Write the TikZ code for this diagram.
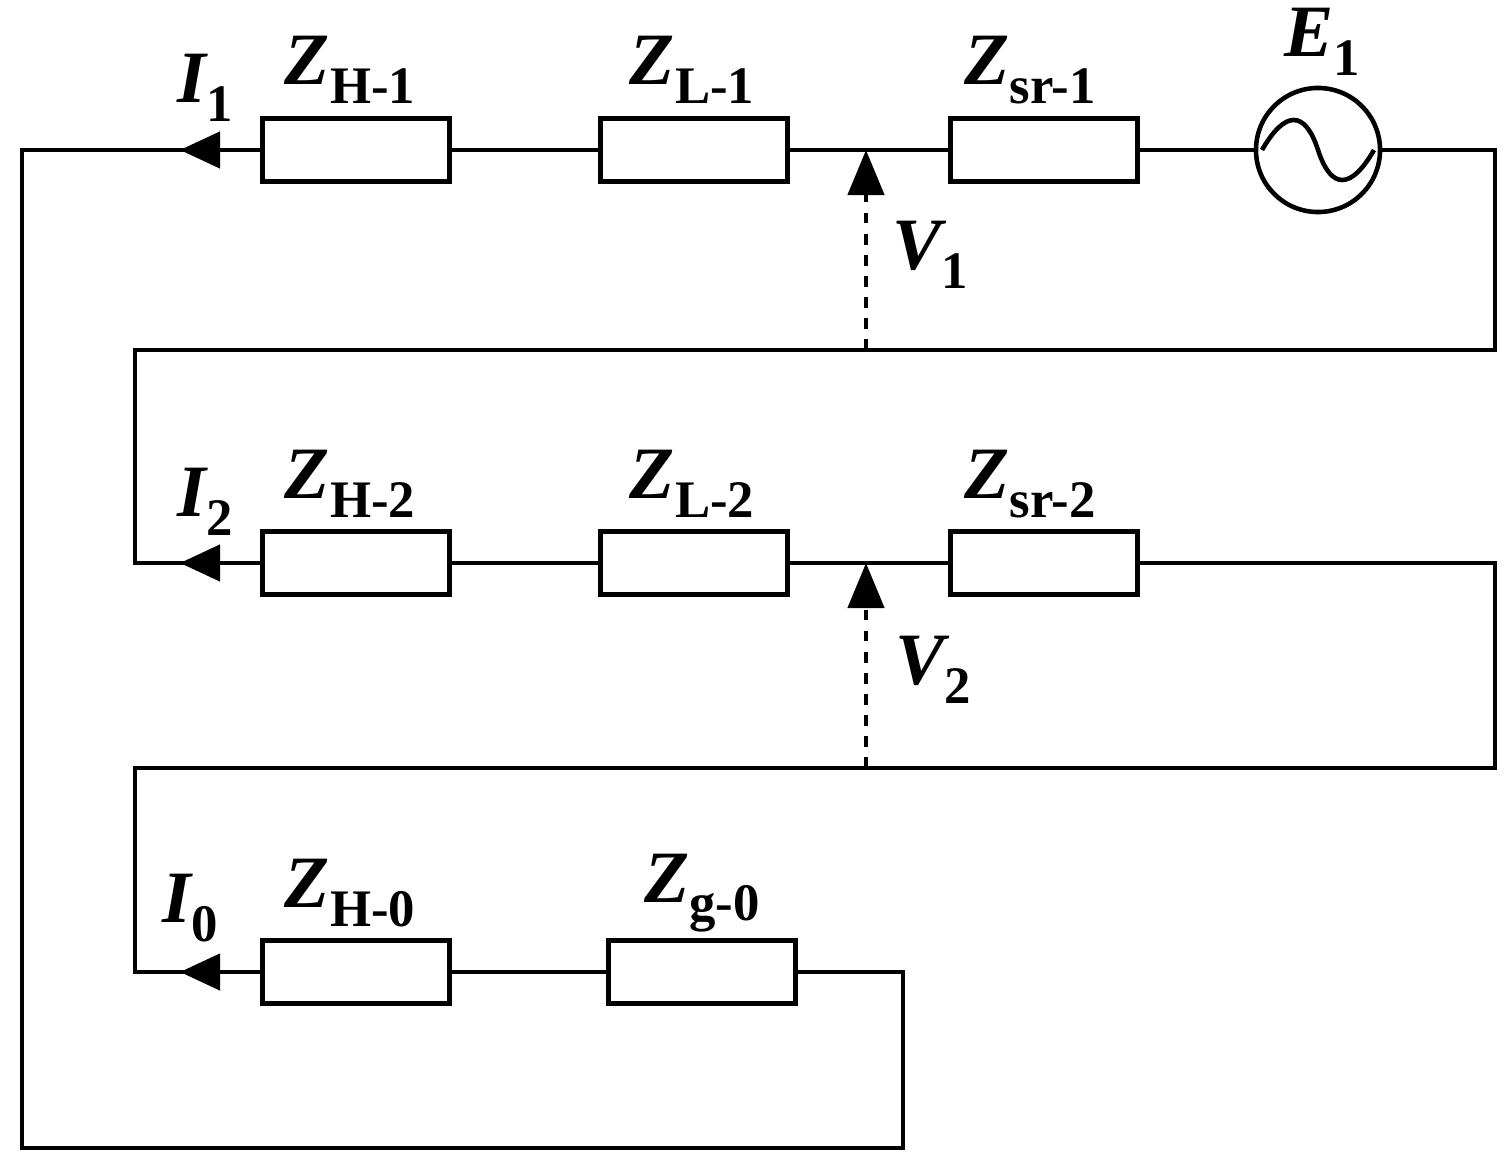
\documentclass[tikz,border=0pt]{standalone}
\usepackage{fontspec}
\setmainfont{Liberation Serif}
\usetikzlibrary{arrows.meta}
\tikzset{
  res/.style={draw, line width=1.3pt, minimum width=1.87cm, minimum height=0.63cm, inner sep=0pt},
  wire/.style={line width=1.3pt},
  lbl/.style={font=\fontsize{21}{23}\selectfont\bfseries},
  cur/.style={wire, -{Triangle[length=0.4cm,width=0.36cm]}},
  volt/.style={wire, dashed, -{Triangle[length=0.45cm,width=0.36cm]}}
}
\newcommand{\sym}[2]{{\itshape #1}\raisebox{-0.25em}{\fontsize{15}{16}\selectfont #2}}
\begin{document}
\begin{tikzpicture}[x=0.01cm,y=-0.01cm]
\useasboundingbox (0,0) rectangle (1512,1176);
% row 1
\node[res] (zh1) at (356,150) {};
\node[res] (zl1) at (694,150) {};
\node[res] (zs1) at (1044,150) {};
\node[draw, circle, line width=1.3pt, minimum size=1.24cm, inner sep=0pt] (e1) at (1318,150) {};
\draw[line width=1.3pt] (1262,150) .. controls (1285,110) and (1305,110) .. (1318,150) .. controls (1331,190) and (1351,190) .. (1374,150);
\coordinate (l1) at (22,150);
\coordinate (j1) at (866,150);
\coordinate (r1a) at (1495,150);
\coordinate (r1b) at (1495,350);
\coordinate (m1) at (866,350);
\coordinate (l2a) at (135,350);
\coordinate (l2b) at (135,563);
% row 2
\node[res] (zh2) at (356,563) {};
\node[res] (zl2) at (694,563) {};
\node[res] (zs2) at (1044,563) {};
\coordinate (j2) at (866,563);
\coordinate (r2a) at (1495,563);
\coordinate (r2b) at (1495,768);
\coordinate (m2) at (866,768);
\coordinate (l3a) at (135,768);
\coordinate (l3b) at (135,972);
% row 3
\node[res] (zh0) at (356,972) {};
\node[res] (zg0) at (702,972) {};
\coordinate (b1) at (903,972);
\coordinate (b2) at (903,1148);
\coordinate (b3) at (22,1148);
% wires
\draw[wire] (zh1.west) -- (l1) -- (b3) -- (b2) -- (b1) -- (zg0.east);
\draw[cur] (zh1.west) -- (180,150);
\draw[wire] (zh1.east) -- (zl1.west) (zl1.east) -- (zs1.west) (zs1.east) -- (e1.west);
\draw[wire] (e1.east) -- (r1a) -- (r1b) -- (l2a) -- (l2b) -- (zh2.west);
\draw[cur] (zh2.west) -- (180,563);
\draw[wire] (zh2.east) -- (zl2.west) (zl2.east) -- (zs2.west);
\draw[wire] (zs2.east) -- (r2a) -- (r2b) -- (l3a) -- (l3b) -- (zh0.west);
\draw[cur] (zh0.west) -- (180,972);
\draw[wire] (zh0.east) -- (zg0.west);
\draw[volt] (m1) -- (j1);
\draw[volt] (m2) -- (j2);
% labels
\node[lbl] (ti1) at (205,88) {\sym{I}{1}};
\node[lbl] (th1) at (350,70) {\sym{Z}{H-1}};
\node[lbl] (tl1) at (692,70) {\sym{Z}{L-1}};
\node[lbl] (ts1) at (1030,70) {\sym{Z}{sr-1}};
\node[lbl] (te1) at (1322,42) {\sym{E}{1}};
\node[lbl] (tv1) at (930,255) {\sym{V}{1}};
\node[lbl] (ti2) at (205,502) {\sym{I}{2}};
\node[lbl] (th2) at (350,484) {\sym{Z}{H-2}};
\node[lbl] (tl2) at (692,484) {\sym{Z}{L-2}};
\node[lbl] (ts2) at (1030,484) {\sym{Z}{sr-2}};
\node[lbl] (tv2) at (933,670) {\sym{V}{2}};
\node[lbl] (ti0) at (190,908) {\sym{I}{0}};
\node[lbl] (th0) at (350,893) {\sym{Z}{H-0}};
\node[lbl] (tg0) at (702,893) {\sym{Z}{g-0}};
\end{tikzpicture}
\end{document}
